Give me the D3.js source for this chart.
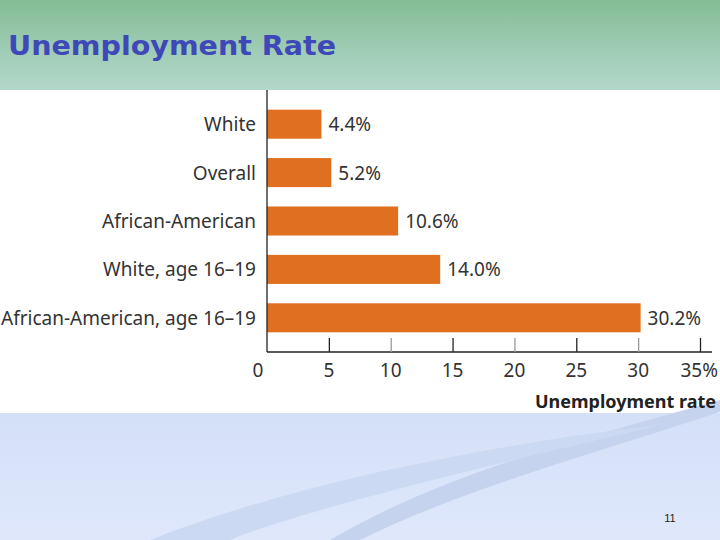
<!DOCTYPE html>
<html><head><meta charset="utf-8">
<script src="https://cdn.jsdelivr.net/npm/d3@7"></script>
<style>body{margin:0;}svg{display:block;}</style>
</head><body>
<script>
"use strict";

var groups = ["White", "Overall", "African-American", "White, age 16\u201319", "African-American, age 16\u201319"];
var rates = [4.4, 5.2, 10.6, 14.0, 30.2];
var ticks = [0, 5, 10, 15, 20, 25, 30, 35];

var svg = d3.select("body").append("svg").attr("width", 720).attr("height", 540);
var defs = svg.append("defs");

var g1 = defs.append("linearGradient").attr("id", "head").attr("x1", 0).attr("y1", 0).attr("x2", 0).attr("y2", 1);
g1.append("stop").attr("offset", "0").attr("stop-color", "#84bd96");
g1.append("stop").attr("offset", "1").attr("stop-color", "#b4d8cc");
var g2 = defs.append("linearGradient").attr("id", "foot").attr("x1", 0).attr("y1", 0).attr("x2", 0).attr("y2", 1);
g2.append("stop").attr("offset", "0").attr("stop-color", "#d4e0f8");
g2.append("stop").attr("offset", "1").attr("stop-color", "#dfe8fb");

// background bands
svg.append("rect").attr("width", 720).attr("height", 90).attr("fill", "url(#head)");
svg.append("rect").attr("y", 90).attr("width", 720).attr("height", 323).attr("fill", "#ffffff");
svg.append("rect").attr("y", 413).attr("width", 720).attr("height", 127).attr("fill", "url(#foot)");
// swooshes
svg.append("path").attr("d", "M330,540 C450,470 580,440 720,400 L720,412 C590,455 460,490 360,540 Z").attr("fill", "#c5d3ef");
svg.append("path").attr("d", "M150,540 C300,480 520,440 660,425 C560,450 330,500 230,540 Z").attr("fill", "#ccd9f2");

svg.append("text").attr("x", 8).attr("y", 55).attr("fill", "#3f48b8")
    .attr("font-family", "'DejaVu Sans', Verdana, sans-serif").attr("font-weight", "bold").attr("font-size", 26)
    .attr("textLength", 328).attr("lengthAdjust", "spacingAndGlyphs")
    .text("Unemployment Rate");
svg.append("text").attr("x", 670).attr("y", 522).attr("text-anchor", "middle")
    .attr("font-family", "Arial, 'Liberation Sans'").attr("font-size", 11).attr("fill", "#222").text("11");

var x = d3.scaleLinear().domain([0, 35]).range([267, 700]);
var y = d3.scaleBand().domain(groups).range([100, 342]).paddingInner(0.4).paddingOuter(0.2);

var font = "'Noto Sans', 'DejaVu Sans', sans-serif";

svg.selectAll("rect.bar").data(groups).enter().append("rect")
    .attr("class", "bar")
    .attr("x", x(0)).attr("y", function(d) { return y(d); })
    .attr("width", function(d, i) { return x(rates[i]) - x(0); })
    .attr("height", y.bandwidth())
    .attr("fill", "#e07020");

svg.selectAll("text.val").data(groups).enter().append("text")
    .attr("class", "val")
    .attr("x", function(d, i) { return x(rates[i]) + 7; })
    .attr("y", function(d) { return y(d) + y.bandwidth() / 2 + 7; })
    .attr("font-family", font).attr("font-size", 19).attr("fill", "#333")
    .text(function(d, i) { return rates[i].toFixed(1) + "%"; });

svg.selectAll("text.cat").data(groups).enter().append("text")
    .attr("class", "cat")
    .attr("x", 256).attr("text-anchor", "end")
    .attr("y", function(d) { return y(d) + y.bandwidth() / 2 + 7; })
    .attr("font-family", font).attr("font-size", 19).attr("fill", "#333")
    .text(function(d) { return d; });

// axes
svg.append("line").attr("x1", 267).attr("x2", 267).attr("y1", 90).attr("y2", 352).attr("stroke", "#222").attr("stroke-width", 1.3);
var axis = d3.axisTop(x).tickValues(ticks.slice(1)).tickSize(14).tickFormat("");
var ag = svg.append("g").attr("transform", "translate(0,352)").call(axis);
ag.select(".domain").attr("d", "M267,0H712").attr("stroke", "#222").attr("stroke-width", 1.3);
ag.selectAll(".tick line").attr("stroke", function(d) { return d % 10 === 0 ? "#999" : "#222"; }).attr("stroke-width", 1.3);

svg.selectAll("text.tk").data(ticks).enter().append("text")
    .attr("class", "tk")
    .attr("x", function(d) { return d === 35 ? 718 : x(d) - (d === 0 ? 9 : 0); })
    .attr("y", 377).attr("text-anchor", function(d) { return d === 35 ? "end" : "middle"; })
    .attr("font-family", font).attr("font-size", 19).attr("fill", "#333")
    .text(function(d) { return d === 35 ? d + "%" : d; });

svg.append("text").attr("x", 716).attr("y", 408).attr("text-anchor", "end")
    .attr("font-family", font).attr("font-weight", "bold").attr("font-size", 18).attr("fill", "#222")
    .text("Unemployment rate");
</script>
</body></html>
